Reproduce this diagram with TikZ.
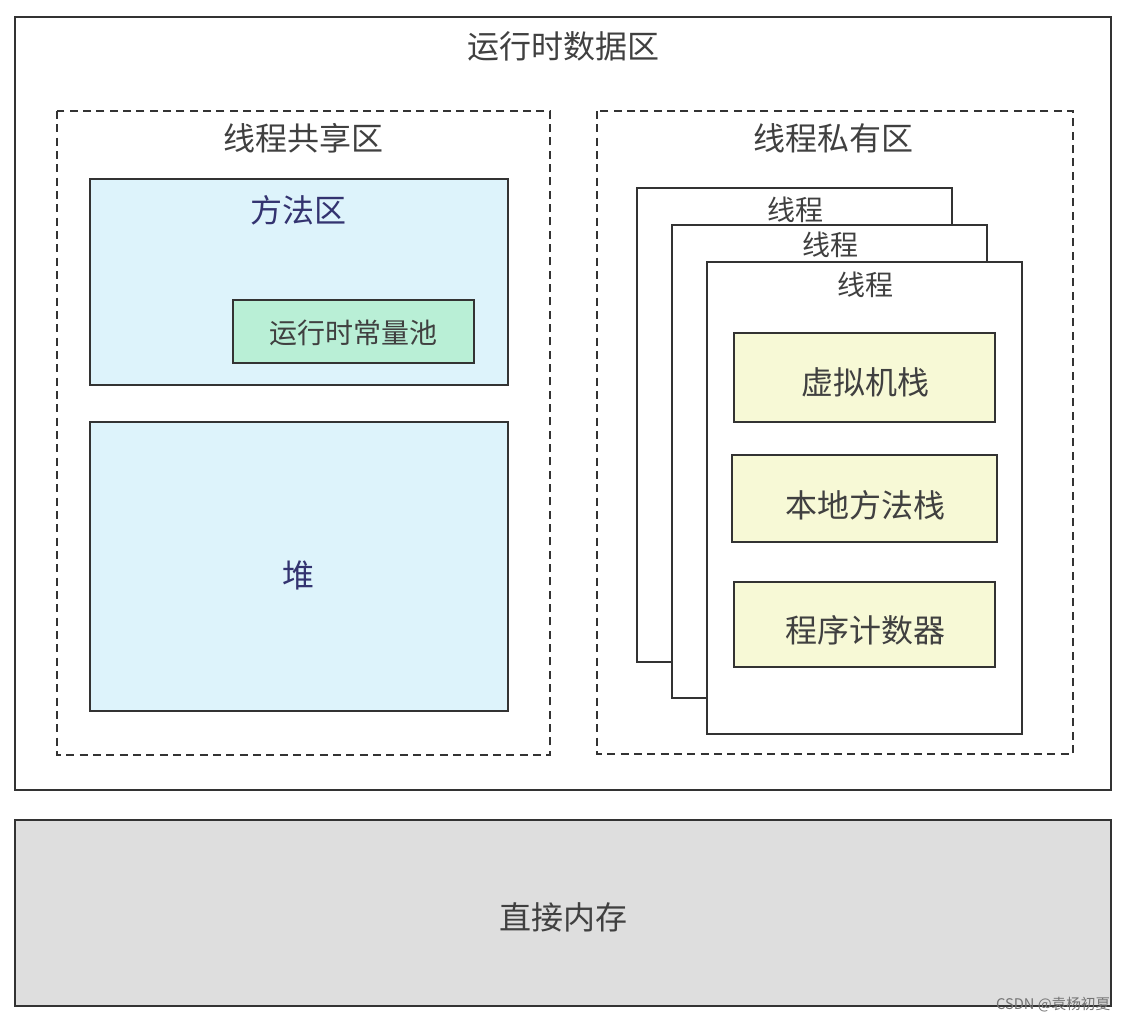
\documentclass[tikz,border=0pt]{standalone}
\usepackage{fontspec}
\setmainfont{Noto Sans CJK SC}
\definecolor{stk}{HTML}{F7F9D6}
\definecolor{pool}{HTML}{B9EFD6}
\definecolor{lb}{HTML}{DDF3FB}
\begin{document}
\begin{tikzpicture}[x=0.75pt,y=-0.75pt,
 box/.style={draw=black!80,line width=1.5pt},
 dbox/.style={draw=black!80,line width=1.3pt,dash pattern=on 6pt off 4pt},
 lbl/.style={font=\fontsize{24}{27}\selectfont,text=black!75},
 slbl/.style={font=\fontsize{21}{24}\selectfont,text=black!75}]
\useasboundingbox (0,0) rectangle (1128,1024);
\fill[white] (0,0) rectangle (1128,1024);
\draw[box] (15,17) rectangle (1111,790);
\node[lbl] (t0) at (563,46) {运行时数据区};
\draw[dbox] (57,111) rectangle (550,755);
\node[lbl] (t1) at (303,138) {线程共享区};
\draw[box,fill=lb] (90,179) rectangle (508,385);
\node[lbl,text=blue!30!black!80] (ma) at (298,210) {方法区};
\draw[box,fill=pool] (233,300) rectangle (474,363);
\node[slbl] (cp) at (353,333) {运行时常量池};
\draw[box,fill=lb] (90,422) rectangle (508,711);
\node[lbl,text=blue!30!black!80] (hp) at (298,575) {堆};
\draw[dbox] (597,111) rectangle (1073,754);
\node[lbl] (t2) at (833,138) {线程私有区};
\draw[box,fill=white] (637,188) rectangle (952,662);
\node[slbl] (th1) at (795,210) {线程};
\draw[box,fill=white] (672,225) rectangle (987,698);
\node[slbl] (th2) at (830,245) {线程};
\draw[box,fill=white] (707,262) rectangle (1022,734);
\node[slbl] (th3) at (865,285) {线程};
\draw[box,fill=stk] (734,333) rectangle (995,422);
\node[lbl] (vs) at (865,382) {虚拟机栈};
\draw[box,fill=stk] (732,455) rectangle (997,542);
\node[lbl] (ns) at (865,505) {本地方法栈};
\draw[box,fill=stk] (734,582) rectangle (995,667);
\node[lbl] (pc) at (865,630) {程序计数器};
\draw[box,fill=black!13] (15,820) rectangle (1111,1006);
\node[lbl] (dm) at (563,917) {直接内存};
\node[font=\fontsize{11}{13}\selectfont,text=black!55,anchor=east] (wm) at (1115,1005) {CSDN @袁杨初夏};
\end{tikzpicture}
\end{document}
